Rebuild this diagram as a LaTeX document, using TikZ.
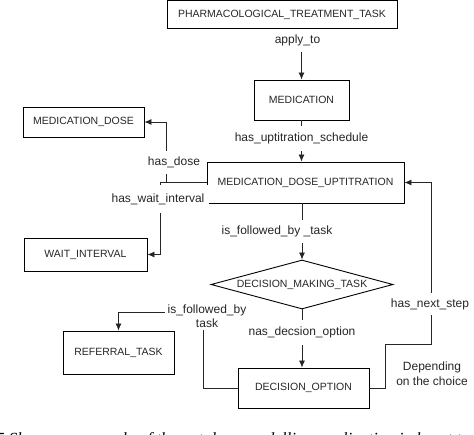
\documentclass[tikz,border=0pt]{standalone}
\usepackage{fontspec}
\setmainfont{Liberation Sans}
\newfontfamily\capfont{Liberation Serif}
\usetikzlibrary{shapes.geometric,arrows.meta}
\tikzset{
  box/.style={draw=black, line width=0.9pt, rectangle, inner sep=0pt, font=\fontsize{10.5}{12}\selectfont, text=black!85},
  lbl/.style={fill=white, inner xsep=6pt, inner ysep=6pt, font=\fontsize{12}{14}\selectfont, text=black!85},
  free/.style={font=\fontsize{12}{14}\selectfont, text=black!85, inner sep=0pt},
  conn/.style={draw=black!85, line width=0.8pt},
  arr/.style={conn, -{Latex[length=7pt,width=6pt]}}
}
\begin{document}
\begin{tikzpicture}[x=1pt,y=-1pt]
\useasboundingbox (0,0) rectangle (474,434);
% boxes
\node[box, minimum width=230pt, minimum height=27.5pt] (ptt) at (282,14.5) {PHARMACOLOGICAL\_TREATMENT\_TASK};
\node[box, minimum width=95pt, minimum height=40pt] (med) at (301.5,100) {MEDICATION};
\node[box, minimum width=121pt, minimum height=30pt] (mdose) at (83.5,122) {MEDICATION\_DOSE};
\node[box, minimum width=197pt, minimum height=41pt] (mdu) at (305.5,182.5) {MEDICATION\_DOSE\_UPTITRATION};
\node[box, minimum width=123pt, minimum height=33pt] (wait) at (85.5,254.5) {WAIT\_INTERVAL};
\node[box, diamond, aspect=3.7, minimum width=182pt, minimum height=49pt] (dmt) at (302,284.5) {DECISION\_MAKING\_TASK};
\node[box, minimum width=111pt, minimum height=43pt] (ref) at (118.5,352.5) {REFERRAL\_TASK};
\node[box, minimum width=131pt, minimum height=40pt] (dopt) at (303.5,388) {DECISION\_OPTION};
% corner coordinates
\coordinate (jl) at (160,182.5);
\coordinate (jd) at (166,182.5);
\coordinate (cf) at (203,312);
\coordinate (rc1) at (385,344);
\coordinate (rc2) at (431,344);
% connectors
\draw[arr] (med.north |- ptt.south) -- node[lbl, pos=0.23, xshift=-4pt] (lapply) {apply\_to} (med.north);
\draw[arr] (med.south) -- node[lbl, pos=0.43, inner ysep=7pt] (lupt) {has\_uptitration\_schedule} (med.south |- mdu.north);
\draw[conn] (mdu.west) -- (jl);
\draw[arr] (jd) -- node[lbl, pos=0.33, xshift=8pt] (ldose) {has\_dose} (jd |- mdose.east) -- (mdose.east);
\draw[arr] (jl) -- (jl |- wait.east) -- (wait.east);
\node[lbl, inner ysep=8.5pt, inner xsep=5pt] (lwait) at (158,199) {has\_wait\_interval};
\draw[arr] (dmt.north |- mdu.south) -- node[lbl, pos=0.5, xshift=-25pt] (lfoll) {is\_followed\_by \_task} (dmt.north);
\draw[arr] (dmt.south) -- node[lbl, pos=0.39, inner ysep=7pt] (ldec) {nas\_decsion\_option} (dmt.south |- dopt.north);
\draw[arr] (dopt.west) -- (cf |- dopt.west) -- (cf) -- (ref.north |- cf) -- (ref.north);
\node[lbl, align=center, inner sep=3pt, font=\fontsize{12}{14}\selectfont] (lref) at (207,316) {is\_followed\_by\\task};
\draw[arr] (dopt.east) -- (rc1 |- dopt.east) -- (rc1) -- (rc2) -- (rc2 |- mdu.east) -- (mdu.east);
\node[lbl, inner ysep=5pt, inner xsep=2pt] (lnext) at (430,304) {has\_next\_step};
\node[free, align=center, font=\fontsize{12}{15}\selectfont] (ldep) at (432,373.5) {Depending\\on the choice};
% cut caption
\node[anchor=base west, inner sep=0pt, font=\capfont\itshape\fontsize{17}{20}\selectfont] (cap) at (-4,444) {5 Shows an example of the ontology modelling application in heart treatment};
\end{tikzpicture}
\end{document}
